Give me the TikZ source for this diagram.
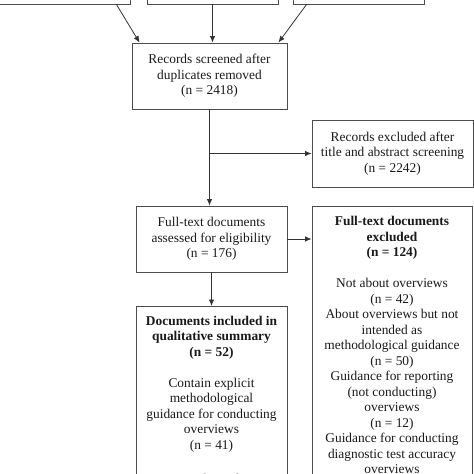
\documentclass[tikz,border=0pt]{standalone}
\usepackage{fontspec}
\setmainfont{Liberation Serif}
\usetikzlibrary{arrows.meta,calc}
\begin{document}
\begin{tikzpicture}[x=1pt,y=-1pt,
 box/.style={draw=black!70,line width=0.9pt,rectangle,align=center,inner sep=0pt,
   font=\fontsize{13.4}{15.5}\selectfont,text=black!90},
 arr/.style={draw=black!80,line width=0.8pt,-{Latex[length=6.5pt,width=5.5pt]}}]
\useasboundingbox (0,0) rectangle (474,474);
\clip (0,0) rectangle (474,474);
\node[box,minimum width=150pt,minimum height=44pt] (tl) at (55,-18) {};
\node[box,minimum width=131pt,minimum height=44pt] (tc) at (212.5,-18) {};
\node[box,minimum width=131pt,minimum height=44pt] (tr) at (358.5,-18) {};
\node[box,minimum width=155pt,minimum height=66pt] (scr) at (209.5,76)
  {Records screened after\\duplicates removed\\(n = 2418)};
\node[box,minimum width=161pt,minimum height=67pt] (rex) at (392.5,153.5)
  {Records excluded after\\title and abstract screening\\(n = 2242)};
\node[box,minimum width=151pt,minimum height=66pt] (ft) at (211.5,239)
  {Full-text documents\\assessed for eligibility\\(n = 176)};
\node[box,anchor=north,minimum width=160pt,inner ysep=10pt] (fte) at (392,206)
  {\textbf{Full-text documents}\\\textbf{excluded}\\\textbf{(n = 124)}\\[15.5pt]
   Not about overviews\\(n = 42)\\About overviews but not\\intended as\\
   methodological guidance\\(n = 50)\\Guidance for reporting\\(not conducting)\\
   overviews\\(n = 12)\\Guidance for conducting\\diagnostic test accuracy\\overviews};
\node[box,anchor=north,minimum width=151pt,inner ysep=9.3pt] (inc) at (211.5,306)
  {\textbf{Documents included in}\\\textbf{qualitative summary}\\\textbf{(n = 52)}\\[15.5pt]
   Contain explicit\\methodological\\guidance for conducting\\overviews\\(n = 41)\\[19pt]
   Describe and/or};
\draw[arr] ([xshift=-14pt]tl.south east) -- ([xshift=8pt]scr.north west);
\draw[arr] (tc.south) -- (tc.south |- scr.north);
\draw[arr] ([xshift=14pt]tr.south west) -- ([xshift=-9pt]scr.north east);
\draw[arr] (scr.south) -- (scr.south |- ft.north);
\draw[arr] (scr.south |- rex.west) -- (rex.west);
\draw[arr] (ft.east) -- (ft.east -| fte.west);
\draw[arr] (ft.south) -- (ft.south |- inc.north);
\end{tikzpicture}
\end{document}
